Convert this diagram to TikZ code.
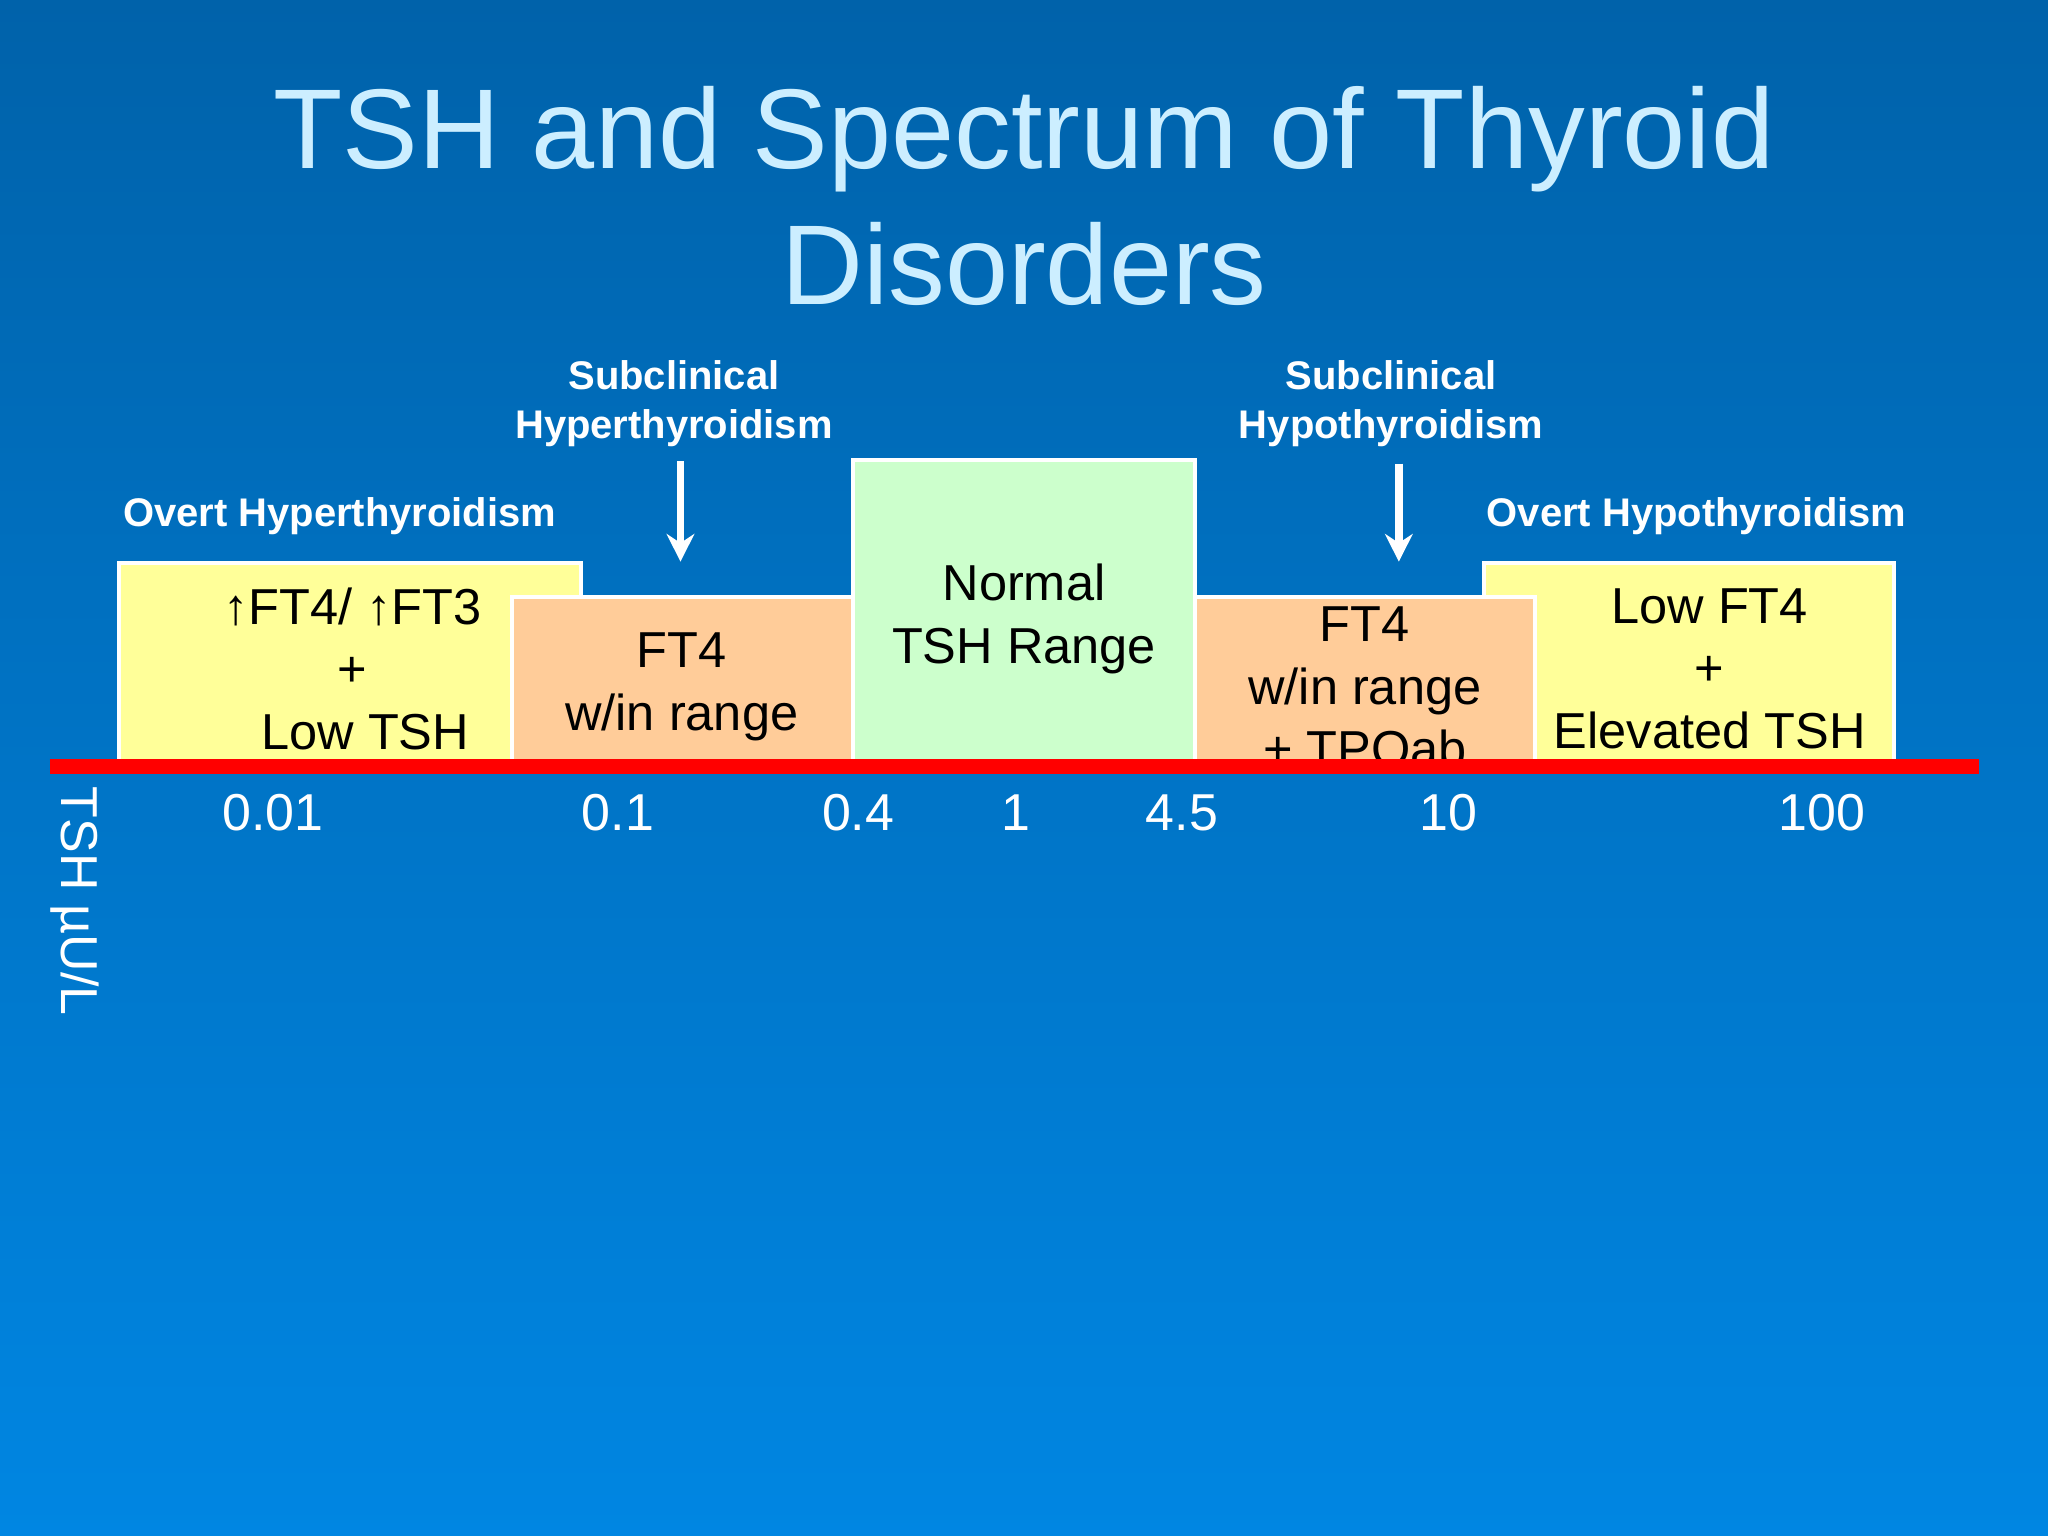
\documentclass[tikz,border=0pt]{standalone}
\usepackage{fontspec}
\setmainfont{Liberation Sans}
\usetikzlibrary{arrows.meta}
\begin{document}
\begin{tikzpicture}[x=0.01cm,y=-0.01cm,
  box/.style={draw=white,line width=0.8pt},
  lbl/.style={text=white,font=\bfseries\fontsize{8.7pt}{10.6pt}\selectfont,align=center},
  btxt/.style={text=black,font=\fontsize{11pt}{13.6pt}\selectfont,align=center},
  num/.style={text=white,font=\fontsize{11.3pt}{13pt}\selectfont}]
\definecolor{bgtop}{HTML}{0062AA}
\definecolor{bgbot}{HTML}{0086E2}
\definecolor{ylw}{HTML}{FFFF99}
\definecolor{org}{HTML}{FFCC99}
\definecolor{grn}{HTML}{CCFFCC}
\definecolor{ttl}{HTML}{CCEEFF}
\shade[top color=bgtop,bottom color=bgbot] (0,0) rectangle (1568,1176);
\useasboundingbox (0,0) rectangle (1568,1176);
\node[text=ttl,font=\fontsize{24.7pt}{29.5pt}\selectfont,align=center] (title) at (784,150) {TSH and Spectrum of Thyroid\\Disorders};
\fill[ylw,box] (91,431) rectangle (445,583);
\fill[ylw,box] (1136,431) rectangle (1450,583);
\fill[org,box] (392,457) rectangle (653,583);
\fill[org,box] (915,457) rectangle (1175,583);
\fill[grn,box] (653,352) rectangle (915,583);
\node[btxt] (t1) at (270,512) {↑FT4/ ↑FT3\\+\\\hspace*{0.5em}Low TSH};
\node[btxt] (t2) at (522,526) {FT4\\w/in range};
\node[btxt] (t3) at (784,474) {Normal\\TSH Range};
\node[btxt] (t4) at (1045,526) {FT4\\w/in range\\+ TPOab};
\node[btxt] (t5) at (1309,512) {Low FT4\\+\\Elevated TSH};
\draw[red,line width=3.2pt] (38,587) -- (1515,587);
\node[lbl] (l1) at (260,395) {Overt Hyperthyroidism};
\node[lbl] (l2) at (516,309) {Subclinical\\Hyperthyroidism};
\node[lbl] (l3) at (1065,309) {Subclinical\\Hypothyroidism};
\node[lbl] (l4) at (1299,395) {Overt Hypothyroidism};
\coordinate (a1) at (521,430); \coordinate (a2) at (1071,430);
\draw[white,line width=1.6pt,-{Stealth[length=6pt,width=6pt]}] (521,353) -- (a1);
\draw[white,line width=1.6pt,-{Stealth[length=6pt,width=6pt]}] (1071,355) -- (a2);
\foreach \x/\t in {209/0.01,473/0.1,657/0.4,778/1,905/4.5,1109/10,1395/100}
  \node[num] at (\x,622) {\t};
\node[num,rotate=-90] (ax) at (57,690) {TSH µU/L};
\end{tikzpicture}
\end{document}
